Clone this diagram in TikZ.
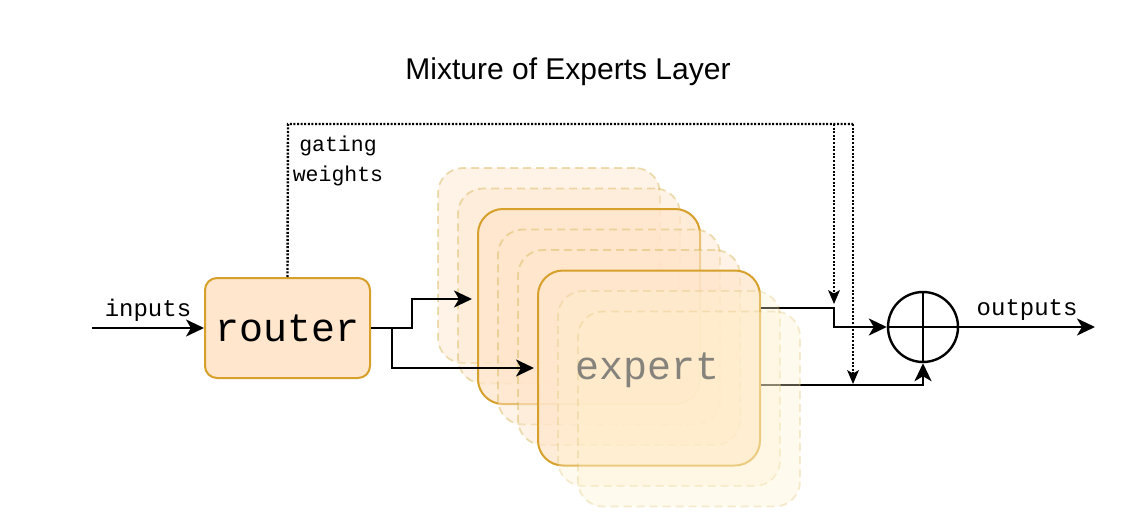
\documentclass[tikz,border=0pt]{standalone}
\usepackage{fontspec}
\setmainfont{Liberation Sans}
\setmonofont{Liberation Mono}
\usetikzlibrary{arrows.meta}
\definecolor{peach}{HTML}{FFE6CC}
\definecolor{lightyel}{HTML}{FFF2CC}
\definecolor{goldline}{HTML}{D6A02A}
\definecolor{goldlight}{HTML}{D6B656}
\definecolor{expgray}{HTML}{86827C}
\tikzset{
  conn/.style={line width=2.4pt, draw=black},
  arr/.style={conn, -{Stealth[length=18pt,width=17pt,inset=5pt]}},
  dotline/.style={line width=2.4pt, dash pattern=on 2pt off 1.6pt},
  dotarr/.style={dotline, -{Stealth[length=14pt,width=12pt,inset=3.5pt,line width=0pt]}},
  expbox/.style={rectangle, rounded corners=25pt, minimum width=222pt, minimum height=195pt, inner sep=0pt},
  solidbox/.style={expbox, draw=goldline, line width=2pt, fill=peach, fill opacity=0.75},
  dashbox/.style={expbox, draw=goldlight, draw opacity=0.45, line width=1.8pt, dash pattern=on 8pt off 5pt, fill=peach, fill opacity=0.45},
  yelbox/.style={expbox, draw=goldlight, draw opacity=0.25, line width=1.8pt, dash pattern=on 8pt off 5pt, fill=lightyel, fill opacity=0.32},
  smalllbl/.style={font=\ttfamily\fontsize{24}{28}\selectfont, inner sep=0pt},
  biglbl/.style={font=\ttfamily\fontsize{40}{48}\selectfont},
}
\begin{document}
\begin{tikzpicture}[x=1pt,y=-1pt]
\useasboundingbox (0,0) rectangle (1138,516);
\fill[white] (0,0) rectangle (1138,516);

% title
\node[font=\fontsize{30}{36}\selectfont] (title) at (568,72) {Mixture of Experts Layer};

% router
\node[rectangle, rounded corners=12pt, minimum width=165pt, minimum height=100pt, draw=goldline, line width=2pt, fill=peach, biglbl] (router) at (287.5,328) {router};

% expert boxes (back to front)
\node[dashbox] (e0) at (549,265.5) {};
\node[dashbox] (e1) at (569,286) {};
\node[solidbox] (e2) at (589,306.5) {};
\node[dashbox] (e3) at (609,327) {};
\node[dashbox] (e4) at (629,347.5) {};
\node[solidbox] (e5) at (649,368) {};

% inputs
\coordinate (in) at (92,328);
\draw[arr] (in) -- (router.west) node[midway, above=5pt, smalllbl] (inlbl) {inputs};

% router to experts
\coordinate (r1) at (412,328);
\coordinate (r2) at (412,299);
\coordinate (b1) at (392,328);
\coordinate (b2) at (392,368);
\draw[arr, shorten >=5pt] (router.east) -- (r1) -- (r2) -- (e2.west |- r2);
\draw[arr, shorten >=3pt] (b1) -- (b2) -- (e5.west |- b2);

% expert outputs
\node[circle, draw, line width=2.4pt, minimum size=70pt, inner sep=0pt] (sum) at (923,327) {};
\draw[conn] (sum.north) -- (sum.south);
\draw[conn] (sum.west) -- (sum.east);
\coordinate (u1) at (834,308);
\coordinate (u2) at (834,327);
\draw[arr] ([yshift=60pt]e5.east) -- (u1) -- (u2) -- (sum.west);
\draw[arr] ([yshift=-17pt]e5.east) -| (sum.south);

% front translucent boxes
\node[yelbox] (e6) at (669,388.5) {};
\node[yelbox] (e7) at (689,409) {};
\node[biglbl, text=expgray] (elabel) at (648,370) {expert};

% gating weights (dotted)
\coordinate (g1) at (288,124);
\coordinate (g2) at (853,124);
\coordinate (g3) at (853,384);
\coordinate (g4) at (834,124);
\coordinate (g5) at (834,304);
\draw[dotline] (router.north) -- (g1) -- (g2);
\draw[dotarr] (g2) -- (g3);
\draw[dotarr] (g4) -- (g5);
\node[font=\ttfamily\fontsize{21.5}{30}\selectfont, align=center] (gw) at (338,161) {gating\\weights};

% outputs
\coordinate (out) at (1095,327);
\draw[arr] (sum.east) -- (out) node[midway, above=5pt, smalllbl] (outlbl) {outputs};
\end{tikzpicture}
\end{document}
